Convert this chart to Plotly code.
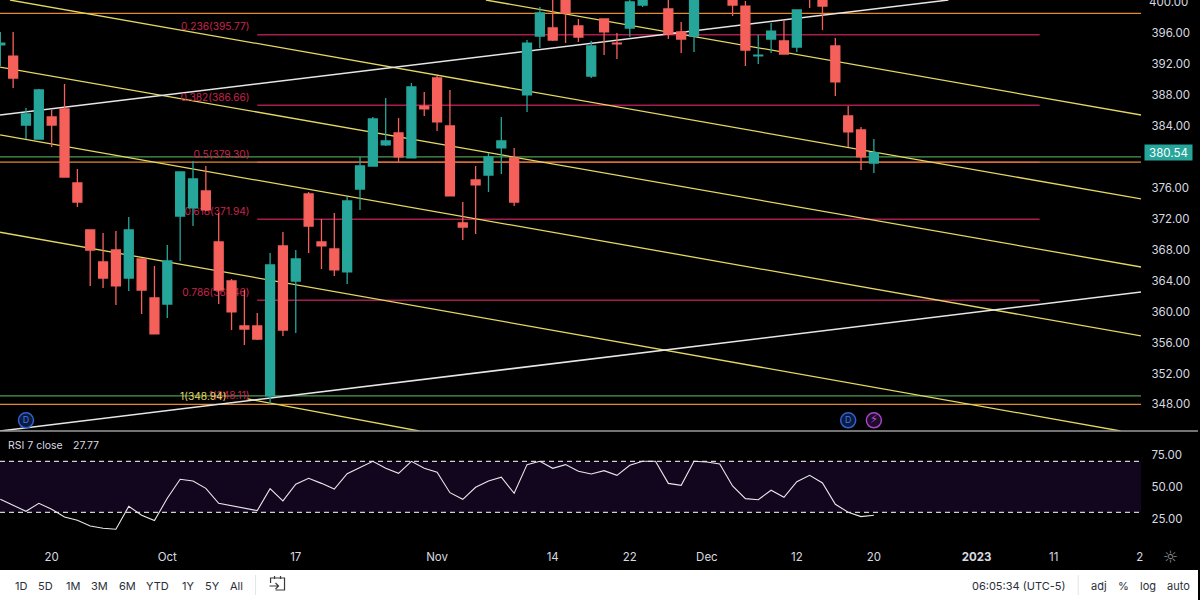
import plotly.graph_objects as go

# daily candles, bar number on x (trading days, no gaps)
bar_open = [394.45, 393.02, 384.11, 382.30, 385.14, 386.18, 376.62, 370.54, 366.41, 367.96,
            364.34, 366.80, 361.76, 360.98, 372.35, 373.39, 375.58, 369.00, 363.95, 358.14,
            358.14, 349.10, 368.48, 363.95, 375.20, 369.00, 368.09, 365.12, 375.84, 378.81,
            381.53, 383.08, 379.85, 386.56, 390.18, 383.98, 371.45, 377.00, 377.65, 381.14,
            379.85, 387.99, 395.61, 396.64, 401.29, 396.90, 390.44, 397.81, 394.70, 396.64,
            399.61, 403.10, 399.10, 396.13, 395.61, 401.40, 403.50, 401.03, 399.48, 393.03,
            395.22, 394.96, 394.19, 403.00, 401.29, 394.32, 385.27, 383.46, 379.20]
bar_high = [396.13, 396.13, 386.31, 388.75, 386.05, 389.41, 378.43, 370.60, 370.16, 370.41,
            372.22, 366.85, 365.89, 368.61, 378.10, 379.46, 378.81, 372.74, 364.21, 362.79,
            359.82, 367.57, 370.29, 367.96, 375.45, 371.97, 372.74, 374.81, 379.98, 385.14,
            387.60, 385.01, 389.54, 388.37, 390.44, 388.63, 374.16, 378.81, 380.49, 385.14,
            381.14, 395.09, 399.36, 401.55, 401.81, 397.81, 394.96, 397.90, 396.00, 400.78,
            402.33, 403.80, 401.29, 397.42, 402.07, 404.00, 404.40, 401.55, 400.13, 395.74,
            397.29, 397.68, 399.00, 403.40, 401.80, 395.35, 386.56, 383.85, 382.30]
bar_low = [391.73, 388.89, 382.30, 382.20, 381.27, 377.30, 373.52, 363.31, 363.05, 360.85,
           362.66, 359.69, 357.05, 359.17, 366.54, 371.06, 373.00, 360.98, 357.62, 355.69,
           356.33, 348.06, 356.85, 357.24, 367.57, 365.51, 364.60, 363.57, 373.13, 378.75,
           381.40, 379.33, 379.80, 385.27, 383.33, 374.90, 369.25, 370.03, 375.45, 377.78,
           373.65, 385.79, 394.06, 394.96, 394.70, 394.83, 390.18, 393.15, 392.64, 395.48,
           399.36, 401.30, 395.22, 393.41, 393.54, 400.90, 401.40, 398.19, 391.73, 391.99,
           393.41, 393.20, 393.54, 399.23, 396.38, 387.86, 381.27, 378.30, 377.91]
bar_close = [394.70, 390.18, 385.53, 388.63, 384.11, 377.39, 374.16, 367.96, 364.34, 363.31,
             370.54, 362.79, 357.11, 366.54, 378.04, 377.13, 373.13, 362.79, 359.95, 357.75,
             356.46, 366.02, 357.62, 366.80, 371.06, 368.48, 365.38, 374.29, 378.81, 384.89,
             382.04, 379.98, 389.02, 386.18, 384.50, 374.94, 370.93, 376.36, 379.98, 382.04,
             374.16, 394.70, 398.58, 395.09, 398.58, 395.48, 394.32, 396.13, 394.58, 400.00,
             401.55, 401.80, 395.87, 395.22, 401.29, 403.60, 402.00, 399.61, 393.80, 393.15,
             396.25, 393.28, 398.97, 401.20, 399.48, 389.67, 383.21, 379.98, 380.54]
bar_no = list(range(len(bar_close)))

rsi = [40.2, 35.5, 30.8, 37.1, 32.4, 26.3, 23.7, 19.3, 17.5, 16.7, 34.7, 27.7, 23.5, 41.0,
       55.9, 54.6, 48.8, 37.1, 35.0, 32.9, 31.3, 48.6, 38.9, 52.0, 56.7, 52.7, 48.3, 60.3,
       65.0, 70.0, 64.5, 60.6, 70.0, 64.5, 61.4, 45.4, 40.2, 49.6, 54.6, 57.5, 44.9, 67.4,
       70.0, 64.5, 67.4, 62.2, 60.1, 62.7, 59.0, 66.9, 70.0, 70.0, 52.7, 51.2, 70.0, 69.5,
       67.9, 50.7, 40.7, 39.9, 47.3, 41.8, 54.0, 59.0, 53.0, 36.3, 30.0, 26.6, 27.7]

# fib levels
fib_labels = ["0.236(395.77)", "0.382(386.66)", "0.5(379.30)", "0.618(371.94)", "0.786(361.46)", "1(348.11)"]
fib_prices = [395.77, 386.66, 379.30, 371.94, 361.46, 348.11]
fib_start, fib_end = 20, 80.9

# full width horizontals
orange_levels = [398.54, 379.30, 348.02]
green_levels = [380.00, 349.10]

# trend lines: bar0, price0, bar1, price1
yellow_x0 = [37.8, 0.75, -0.02, -0.02, -0.02, 19.25]
yellow_y0 = [400.26, 400.26, 391.60, 382.82, 370.25, 348.71]
yellow_x1 = [88.8, 88.8, 88.8, 88.8, 87.2, 32.6]
yellow_y1 = [385.40, 374.55, 365.76, 356.85, 344.57, 344.57]
white_x0 = [-0.02, -0.02]
white_y0 = [385.40, 344.57]
white_x1 = [73.8, 88.8]
white_y1 = [400.26, 362.53]

price_ticks = [348, 352, 356, 360, 364, 368, 372, 376, 384, 388, 392, 396]
top_price_tick = 400  # plotly drops this one, too close to the edge
rsi_ticks = [25, 50, 75]
date_ticks = [4, 13, 23, 34, 43, 49, 55, 62, 68, 76, 82, 88.7]
date_labels = ["20", "Oct", "17", "Nov", "14", "22", "Dec", "12", "20", "<b>2023</b>", "11", "2"]

range_buttons = ["1D", "5D", "1M", "3M", "6M", "YTD", "1Y", "5Y", "All"]
range_button_px = [21, 46, 73, 100, 128, 158, 188, 213, 237]
right_labels = ["06:05:34 (UTC-5)", "adj", "%", "log", "auto"]
right_label_px = [1020, 1101, 1125, 1150, 1180]

UP = "#26a69a"
DOWN = "#f6605b"
FIB = "#a81c50"
FIB_TEXT = "#c9244f"
YELLOW = "#e4d862"
ORANGE = "#e58a2a"
GREEN = "#4f9a50"
AXIS_TEXT = "#d8dae0"
FONT = "Inter, Roboto, sans-serif"
PRICE_RANGE = [344.57, 400.26]
X_RANGE = [-0.023, 88.8]


def px(x):
    return x / 1200


def py_(y):
    return 1 - y / 600


fig = go.Figure()

# labels and icons sit under the candles
fig.add_trace(go.Scatter(x=[fib_start - 0.6] * len(fib_prices), y=[p + 0.9 for p in fib_prices],
                         mode="text", text=fib_labels, textposition="middle left",
                         textfont=dict(color=FIB_TEXT, size=10.2, family=FONT),
                         hoverinfo="skip", showlegend=False))
fig.add_trace(go.Scatter(x=[17.6], y=[348.94], mode="text", text=["1(348.94)"],
                         textposition="middle left",
                         textfont=dict(color=YELLOW, size=10.2, family=FONT),
                         hoverinfo="skip", showlegend=False))

fig.add_trace(go.Candlestick(x=bar_no, open=bar_open, high=bar_high, low=bar_low, close=bar_close,
                             yaxis="y3", whiskerwidth=0,
                             increasing=dict(line=dict(color=UP, width=1.3), fillcolor=UP),
                             decreasing=dict(line=dict(color=DOWN, width=1.3), fillcolor=DOWN),
                             showlegend=False))

# dividend / earnings markers
fig.add_trace(go.Scatter(x=[2, 66], y=[345.95, 345.95], mode="markers+text", text=["D", "D"],
                         yaxis="y3", textposition="middle center",
                         textfont=dict(color="#3f78e6", size=9, family=FONT),
                         marker=dict(size=15, color="#0b1a3d", line=dict(color="#2f62cf", width=1.5)),
                         hoverinfo="skip", showlegend=False))
fig.add_trace(go.Scatter(x=[68], y=[345.95], mode="markers+text", text=["⚡"], yaxis="y3",
                         textposition="middle center",
                         textfont=dict(color="#b04fd0", size=12, family="DejaVu Sans"),
                         marker=dict(size=15, color="#1f0b2a", line=dict(color="#a646c8", width=1.5)),
                         hoverinfo="skip", showlegend=False))

fig.add_trace(go.Scatter(x=bar_no, y=rsi, mode="lines", yaxis="y2",
                         line=dict(color="#e8e8ea", width=1.1), hoverinfo="skip", showlegend=False))

shapes = []


def data_line(x0, y0, x1, y1, color, width=1.3, yref="y", dash="solid"):
    shapes.append(dict(type="line", xref="x", yref=yref, x0=x0, y0=y0, x1=x1, y1=y1,
                       layer="below", line=dict(color=color, width=width, dash=dash)))


for p in fib_prices[:-1]:
    data_line(fib_start, p, fib_end, p, FIB, width=1.6)
for p in orange_levels:
    data_line(X_RANGE[0], p, X_RANGE[1], p, ORANGE)
for p in green_levels:
    data_line(X_RANGE[0], p, X_RANGE[1], p, GREEN)
for i in range(len(yellow_x0)):
    data_line(yellow_x0[i], yellow_y0[i], yellow_x1[i], yellow_y1[i], YELLOW)
for i in range(len(white_x0)):
    data_line(white_x0[i], white_y0[i], white_x1[i], white_y1[i], "#e6e6e6", width=1.5)

# rsi band
shapes.append(dict(type="rect", xref="x", yref="y2", x0=X_RANGE[0], x1=X_RANGE[1], y0=30, y1=70,
                   layer="below", line=dict(width=0), fillcolor="#12061f"))
data_line(X_RANGE[0], 70, X_RANGE[1], 70, "#d0d0d4", yref="y2", dash="5px,4px")
data_line(X_RANGE[0], 30, X_RANGE[1], 30, "#d0d0d4", yref="y2", dash="5px,4px")

# pane divider and bottom toolbar
shapes.append(dict(type="line", xref="paper", yref="paper", x0=0, x1=1, y0=py_(431), y1=py_(431),
                   line=dict(color="#9a9a9a", width=1.6)))
shapes.append(dict(type="rect", xref="paper", yref="paper", x0=0, x1=1, y0=0, y1=py_(570),
                   line=dict(width=0), fillcolor="#ffffff"))
for sep in [256, 1080]:
    shapes.append(dict(type="line", xref="paper", yref="paper", x0=px(sep), x1=px(sep),
                       y0=py_(575), y1=py_(595), line=dict(color="#e4e4e4", width=1)))

# calendar icon
icon = "#3a3a3a"
shapes.append(dict(type="path", xref="paper", yref="paper",
                   path=f"M {px(271)} {py_(583)} L {px(271)} {py_(578)} L {px(285)} {py_(578)} "
                        f"L {px(285)} {py_(590)} L {px(276)} {py_(590)}",
                   line=dict(color=icon, width=1.2)))
shapes.append(dict(type="path", xref="paper", yref="paper",
                   path=f"M {px(270)} {py_(586)} L {px(279)} {py_(586)} M {px(276)} {py_(583)} "
                        f"L {px(279)} {py_(586)} L {px(276)} {py_(589)} "
                        f"M {px(275)} {py_(576)} L {px(275)} {py_(579)} M {px(281)} {py_(576)} L {px(281)} {py_(579)}",
                   line=dict(color=icon, width=1.2)))

annotations = [
    dict(xref="paper", yref="paper", x=px(6.5), y=py_(445), xanchor="left", yanchor="middle",
         text="RSI 7 close", showarrow=False, font=dict(color=AXIS_TEXT, size=10.5, family=FONT)),
    dict(xref="paper", yref="paper", x=px(71), y=py_(445), xanchor="left", yanchor="middle",
         text="27.77", showarrow=False, font=dict(color=AXIS_TEXT, size=10.5, family=FONT)),
    # last price tag
    dict(xref="paper", yref="y", x=px(1145.5), y=bar_close[-1], xanchor="left", yanchor="middle",
         text="380.54", showarrow=False, bgcolor=UP, width=47, height=15, borderpad=0,
         font=dict(color="#ffffff", size=11.5, family=FONT)),
    dict(xref="paper", yref="y", x=px(1149), y=top_price_tick, xanchor="left", yanchor="middle",
         text=f"{top_price_tick:.2f}", showarrow=False,
         font=dict(color=AXIS_TEXT, size=11.5, family=FONT)),
    dict(xref="paper", yref="paper", x=px(1172), y=py_(557), xanchor="center", yanchor="middle",
         text="☼", showarrow=False, font=dict(color="#8f9096", size=17, family="DejaVu Sans")),
]
for lab, x in zip(range_buttons, range_button_px):
    annotations.append(dict(xref="paper", yref="paper", x=px(x), y=py_(585.5), xanchor="center",
                            yanchor="middle", text=lab, showarrow=False,
                            font=dict(color="#2a2e39", size=11, family=FONT)))
for lab, x in zip(right_labels, right_label_px):
    annotations.append(dict(xref="paper", yref="paper", x=px(x), y=py_(585.5), xanchor="center",
                            yanchor="middle", text=lab, showarrow=False,
                            font=dict(color="#2a2e39", size=11, family=FONT)))

fig.update_layout(
    width=1200, height=600,
    margin={"r": 0, "t": 0, "l": 0, "b": 0},
    paper_bgcolor="#000000", plot_bgcolor="#000000",
    boxgap=0.15, boxgroupgap=0.18,
    dragmode=False,
    shapes=shapes,
    annotations=annotations,
    xaxis=dict(domain=[0, px(1143)], range=X_RANGE, anchor="y2", showgrid=False, zeroline=False,
               rangeslider=dict(visible=False), tickmode="array", tickvals=date_ticks,
               ticktext=date_labels, ticks="outside", ticklen=1, tickcolor="#000000", showline=False,
               tickfont=dict(color=AXIS_TEXT, size=11.5, family=FONT)),
    yaxis=dict(domain=[py_(431), 1], range=PRICE_RANGE, side="right", anchor="x", showgrid=False,
               zeroline=False, tickmode="array", tickvals=price_ticks,
               ticktext=[f"{t:.2f}" for t in price_ticks], ticks="outside", ticklen=7, tickcolor="#000000",
               tickfont=dict(color=AXIS_TEXT, size=11.5, family=FONT)),
    yaxis3=dict(overlaying="y", range=PRICE_RANGE, side="right", visible=False, anchor="x"),
    yaxis2=dict(domain=[py_(545), py_(432)], range=[4.35, 93], side="right", anchor="x", showgrid=False,
                zeroline=False, tickmode="array", tickvals=rsi_ticks,
                ticktext=[f"{t:.2f}" for t in rsi_ticks], ticks="outside", ticklen=7, tickcolor="#000000",
                tickfont=dict(color=AXIS_TEXT, size=11.5, family=FONT)),
)

# page body margin would shift the chart by 8px
fig.write_html("out.html", config={"displayModeBar": False},
               post_script="document.body.style.margin='0';document.body.style.background='#000';")
